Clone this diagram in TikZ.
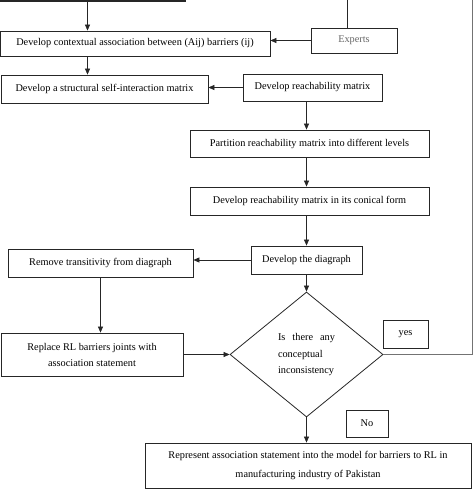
\documentclass[tikz,border=0pt]{standalone}
\usepackage{fontspec}
\setmainfont{Liberation Serif}
\usetikzlibrary{arrows.meta,shapes.geometric}
\tikzset{
  box/.style={draw=black!85, line width=0.8pt, inner sep=0pt, font=\fontsize{10.3}{12}\selectfont, align=center},
  arr/.style={-{Triangle[length=6pt,width=5pt]}, line width=0.6pt, black!85},
}
\begin{document}
\begin{tikzpicture}[x=1pt,y=-1pt]
\useasboundingbox (0,0) rectangle (474,489);
\clip (0,0) rectangle (474,489);
% boxes
\node[box, line width=2pt, minimum width=195, minimum height=40] (top) at (87.5,-19) {};
\node[box, minimum width=270, minimum height=25] (ctx) at (135,43.5) {Develop contextual association between (Aij) barriers (ij)};
\node[box, minimum width=86, minimum height=25, text=black!60] (exp) at (354,40.5) {Experts};
\node[box, minimum width=207, minimum height=28] (ssim) at (104.5,89) {Develop a structural self-interaction matrix};
\node[box, minimum width=139, minimum height=27] (reach) at (312.5,87.5) {Develop reachability matrix};
\node[box, minimum width=239, minimum height=27] (part) at (309.5,143.5) {Partition reachability matrix into different levels};
\node[box, minimum width=239, minimum height=28] (con) at (309.5,201) {Develop reachability matrix in its conical form};
\node[box, minimum width=111, minimum height=28] (dig) at (306.5,260) {Develop the diagraph};
\node[box, minimum width=185, minimum height=28] (rem) at (100.5,263) {Remove transitivity from diagraph};
\node[box, minimum width=182, minimum height=43, font=\fontsize{10.3}{16}\selectfont] (rep) at (92,354.5) {Replace RL barriers joints with\\association statement};
\node[box, diamond, minimum width=153, minimum height=125] (dia) at (306.5,354.5) {};
\node[font=\fontsize{10.3}{16.5}\selectfont, text width=57pt, align=left, inner sep=0pt] (q) at (306.5,355) {Is \hfill there \hfill any\\conceptual\\inconsistency};
\node[box, minimum width=45, minimum height=28] (yes) at (405.5,334) {yes};
\node[box, minimum width=42, minimum height=27] (no) at (367,423.5) {No};
\node[box, minimum width=326, minimum height=45, font=\fontsize{10.3}{19}\selectfont] (fin) at (308,465.5) {Represent association statement into the model for barriers to RL in\\manufacturing industry of Pakistan};
\coordinate (e0) at (347,-5);
\coordinate (loop) at (472,-5);
% connectors
\draw[arr] (top.south) -- (top.south |- ctx.north);
\draw[arr] (top.south |- ctx.south) -- (top.south |- ssim.north);
\draw[line width=0.6pt, black!85] (e0) -- (e0 |- exp.north);
\draw[arr] (exp.west) -- (exp.west -| ctx.east);
\draw[arr] (reach.west) -- (reach.west -| ssim.east);
\draw[arr] (reach.south -| dig.north) -- (dig.north |- part.north);
\draw[arr] (dig.north |- part.south) -- (dig.north |- con.north);
\draw[arr] (dig.north |- con.south) -- (dig.north);
\draw[arr] (dig.south) -- (dia.north);
\draw[arr] (dig.west) -- (dig.west -| rem.east);
\draw[arr] (rem.south) -- (rem.south |- rep.north);
\draw[arr] (rep.east) -- (dia.west);
\draw[arr] (dia.south) -- (dia.south |- fin.north);
\draw[line width=0.6pt, black!55] (dia.east) -| (loop);
\end{tikzpicture}
\end{document}
